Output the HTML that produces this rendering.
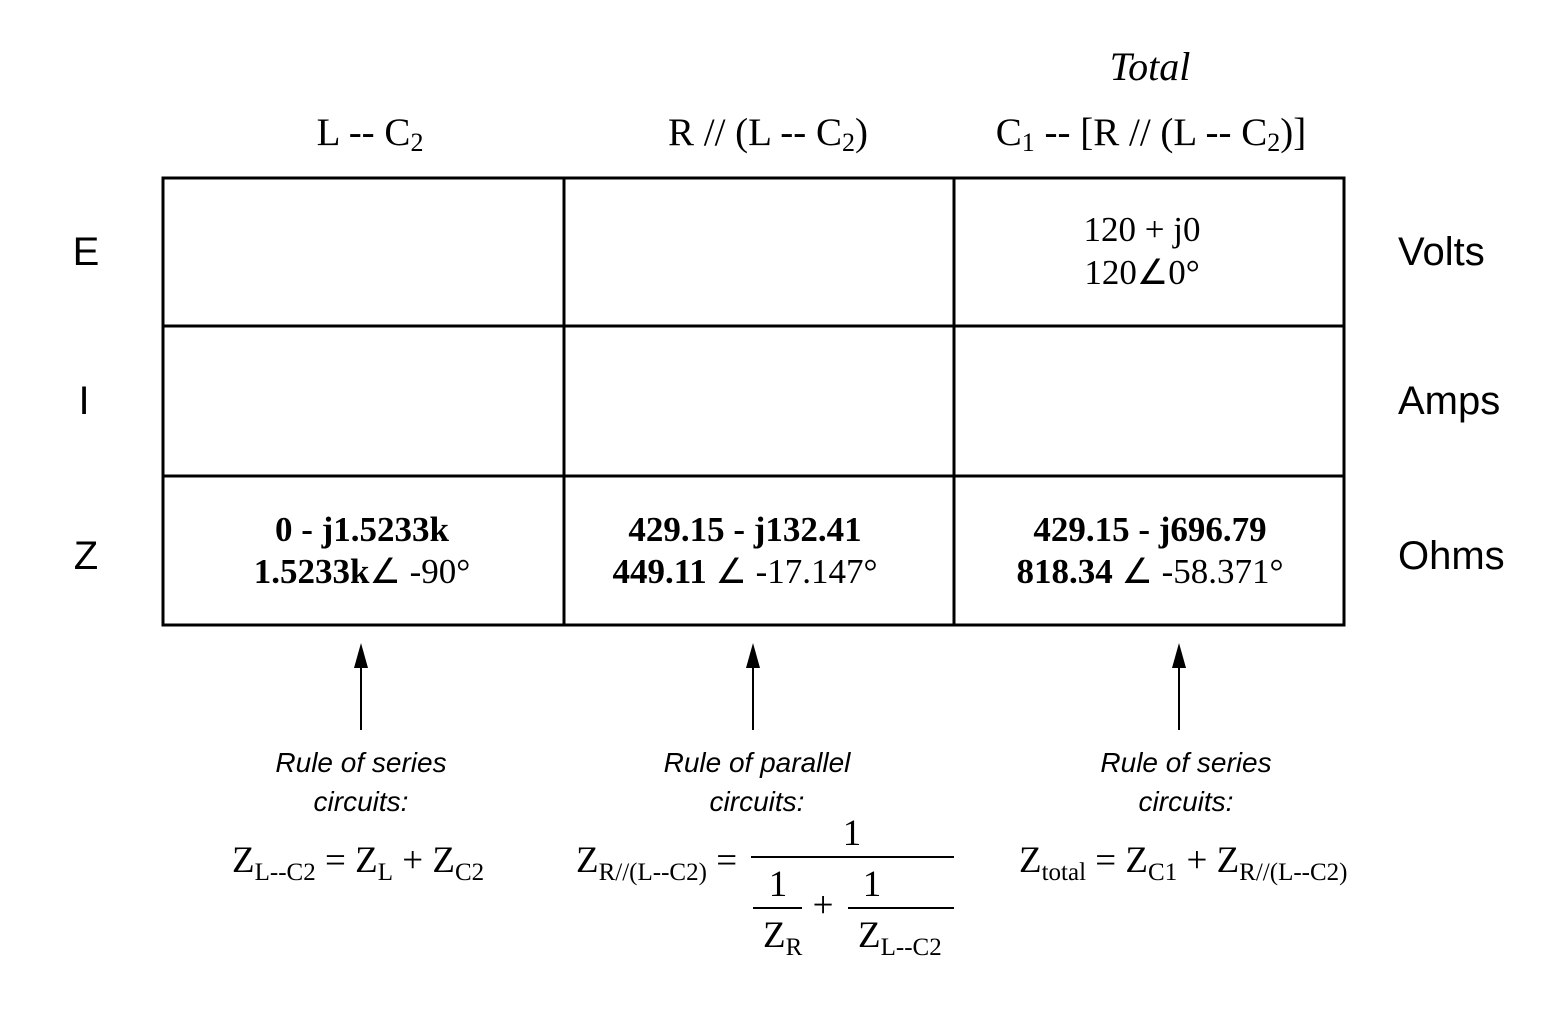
<!DOCTYPE html>
<html><head><meta charset="utf-8"><style>
html,body{margin:0;padding:0;background:#fff}
svg{display:block}
.s{font-family:"Liberation Serif",serif;fill:#000}
.a{font-family:"Liberation Sans",sans-serif;fill:#000}
</style></head><body>
<svg width="1564" height="1027" viewBox="0 0 1564 1027" xmlns="http://www.w3.org/2000/svg">
<g stroke="#000" stroke-width="3" fill="none">
<rect x="163" y="178" width="1181" height="447"/>
<line x1="564" y1="178" x2="564" y2="625"/>
<line x1="954" y1="178" x2="954" y2="625"/>
<line x1="163" y1="326" x2="1344" y2="326"/>
<line x1="163" y1="476" x2="1344" y2="476"/>
</g>
<g stroke="#000" stroke-width="2">
<line x1="361" y1="665" x2="361" y2="730"/>
<line x1="753" y1="665" x2="753" y2="730"/>
<line x1="1179" y1="665" x2="1179" y2="730"/>
<line x1="751" y1="857" x2="954" y2="857"/>
<line x1="753" y1="908" x2="802" y2="908"/>
<line x1="848" y1="908" x2="954" y2="908"/>
</g>
<g fill="#000">
<polygon points="361,643 354,668 368,668"/>
<polygon points="753,643 746,668 760,668"/>
<polygon points="1179,643 1172,668 1186,668"/>
</g>
<text class="s" x="1150" y="80" font-size="40" font-style="italic" text-anchor="middle">Total</text>
<text class="s" x="370" y="145" font-size="39" text-anchor="middle">L -- C<tspan font-size="26" dy="6">2</tspan></text>
<text class="s" x="768" y="145" font-size="39" text-anchor="middle">R // (L -- C<tspan font-size="26" dy="6">2</tspan><tspan dy="-6">)</tspan></text>
<text class="s" x="1151" y="145" font-size="39" text-anchor="middle">C<tspan font-size="26" dy="6">1</tspan><tspan dy="-6"> -- [R // (L -- C</tspan><tspan font-size="26" dy="6">2</tspan><tspan dy="-6">)]</tspan></text>
<g class="a" font-size="40">
<text x="86" y="265" text-anchor="middle">E</text>
<text x="84" y="414" text-anchor="middle">I</text>
<text x="86" y="569" text-anchor="middle">Z</text>
<text x="1398" y="265">Volts</text>
<text x="1398" y="414">Amps</text>
<text x="1398" y="569">Ohms</text>
</g>
<g class="s" font-size="35" text-anchor="middle">
<text x="1142" y="241">120 + j0</text>
<text x="1142" y="284">120∠0°</text>
</g>
<g class="s" font-size="35" text-anchor="middle">
<text x="362" y="541" font-weight="bold">0 - j1.5233k</text>
<text x="362" y="583"><tspan font-weight="bold">1.5233k</tspan>∠ -90°</text>
<text x="745" y="541" font-weight="bold">429.15 - j132.41</text>
<text x="745" y="583"><tspan font-weight="bold">449.11</tspan> ∠ -17.147°</text>
<text x="1150" y="541" font-weight="bold">429.15 - j696.79</text>
<text x="1150" y="583"><tspan font-weight="bold">818.34</tspan> ∠ -58.371°</text>
</g>
<g class="a" font-size="28" font-style="italic" text-anchor="middle">
<text x="361" y="772">Rule of series</text>
<text x="361" y="811">circuits:</text>
<text x="757" y="772">Rule of parallel</text>
<text x="757" y="811">circuits:</text>
<text x="1186" y="772">Rule of series</text>
<text x="1186" y="811">circuits:</text>
</g>
<g class="s" font-size="37">
<text x="232" y="872">Z<tspan font-size="25" dy="8">L--C2</tspan><tspan dy="-8"> = Z</tspan><tspan font-size="25" dy="8">L</tspan><tspan dy="-8"> + Z</tspan><tspan font-size="25" dy="8">C2</tspan></text>
<text x="576" y="872">Z<tspan font-size="25" dy="8">R//(L--C2)</tspan><tspan dy="-8"> =</tspan></text>
<text x="852" y="845" text-anchor="middle">1</text>
<text x="778" y="896" text-anchor="middle">1</text>
<text x="823" y="917" text-anchor="middle">+</text>
<text x="872" y="896" text-anchor="middle">1</text>
<text x="763" y="947">Z<tspan font-size="25" dy="8">R</tspan></text>
<text x="858" y="947">Z<tspan font-size="25" dy="8">L--C2</tspan></text>
<text x="1019" y="872">Z<tspan font-size="25" dy="8">total</tspan><tspan dy="-8"> = Z</tspan><tspan font-size="25" dy="8">C1</tspan><tspan dy="-8"> + Z</tspan><tspan font-size="25" dy="8">R//(L--C2)</tspan></text>
</g>
</svg>
</body></html>
